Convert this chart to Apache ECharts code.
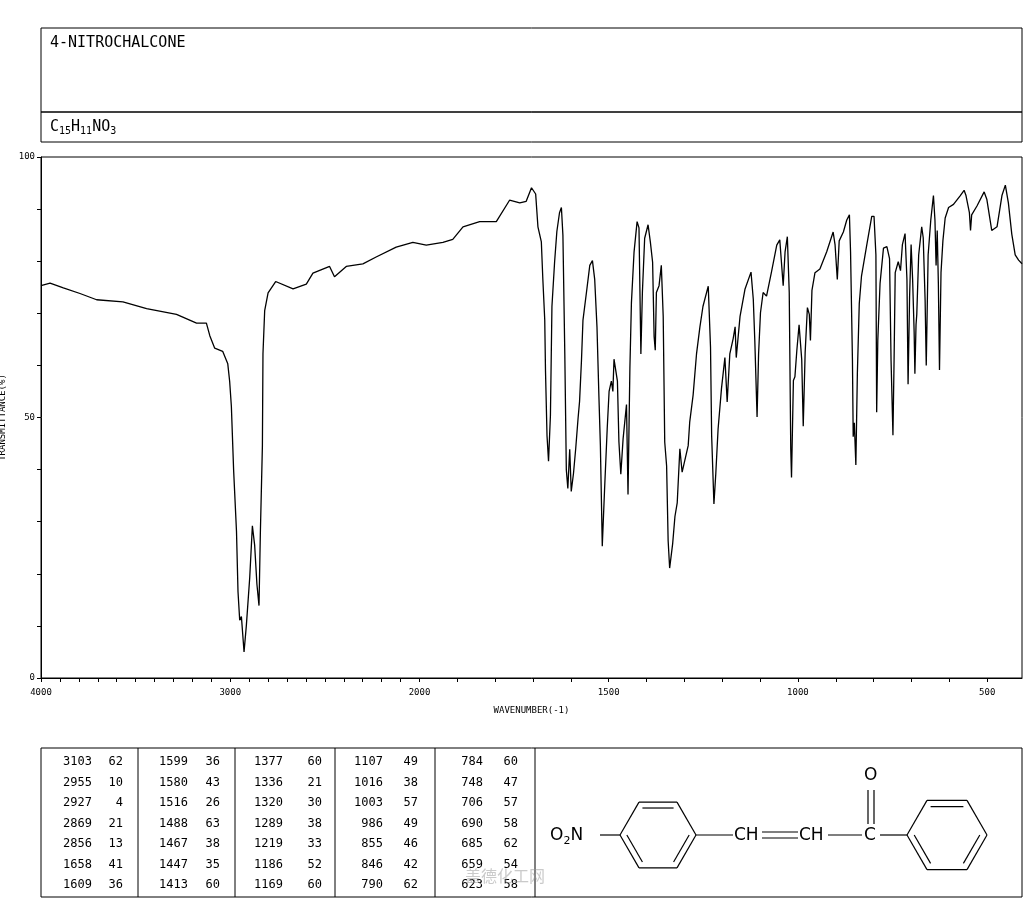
<!DOCTYPE html>
<html lang="en">
<head>
<meta charset="UTF-8">
<title>4-NITROCHALCONE IR</title>
<script src="https://cdn.jsdelivr.net/npm/echarts@6/dist/echarts.min.js"></script>
<style>body{margin:0;background:#fff}#main{width:1024px;height:900px}</style>
</head>
<body>
<div id="main"></div>
<script>
// spectrum: wavenumber (cm-1) and transmittance (%)
var wavenumbers = [4000,3952,3882,3794,3706,3567,3442,3284,3178,3126,3108,3082,3040,3013,3003,2994,2982,2967,2959,2950,2941,2927,2915,2897,2883,2871,2859,2848,2841,2830,2827,2818,2800,2760,2668,2598,2563,2475,2466,2449,2387,2299,2229,2123,2035,1982,1938,1912,1885,1841,1797,1762,1735,1718,1704,1693,1687,1678,1674,1669,1667,1663,1659,1654,1650,1643,1637,1630,1625,1621,1616,1612,1608,1603,1599,1593,1587,1581,1577,1572,1568,1559,1550,1543,1537,1531,1526,1522,1517,1511,1504,1499,1493,1489,1486,1482,1477,1473,1468,1462,1453,1449,1444,1440,1433,1425,1420,1415,1411,1405,1396,1390,1384,1380,1377,1374,1367,1361,1356,1352,1347,1343,1339,1331,1325,1319,1312,1306,1301,1290,1286,1277,1268,1259,1251,1237,1231,1228,1222,1217,1211,1202,1193,1187,1180,1171,1166,1163,1153,1140,1124,1118,1114,1108,1104,1099,1092,1083,1070,1056,1048,1039,1034,1028,1023,1019,1017,1012,1008,1003,997,990,986,981,975,970,967,963,955,942,924,907,902,896,891,880,871,864,861,856,854,851,847,843,838,832,818,805,799,794,792,789,783,774,765,758,754,749,746,743,735,729,724,717,712,709,705,701,697,693,691,688,686,681,673,669,664,661,656,649,642,638,635,632,629,626,622,617,611,602,589,571,561,556,547,544,541,527,508,501,488,474,461,452,444,435,426,417,408];
var transmittance = [75.3,75.8,74.9,73.8,72.6,72.2,70.9,69.8,68.1,68.1,65.7,63.3,62.7,60.3,56.9,52.1,39.8,28.2,16.6,11.1,11.8,5,10,19.3,29.2,25.5,18,13.9,27.5,44.6,62.3,70.5,73.9,76.1,74.7,75.6,77.7,79,79.3,77,79,79.5,80.8,82.7,83.6,83.1,83.6,84.2,86.6,87.6,87.6,91.7,91.2,91.5,94.1,92.9,86.6,83.7,76.5,68.7,58.9,46.5,41.6,50.4,71.3,79.8,85.7,89.3,90.3,85,62.2,40,36.4,43.9,35.8,39.3,44.2,49.8,53.1,60.9,68.7,73.9,79.2,80.1,76.5,67.4,54.3,44.6,25.3,36.1,47.8,55,57,55,61.2,61.2,57,45.3,39.1,45.9,52.5,35.2,59.6,72,81.8,87.6,86.4,62.2,74,84.4,87,83.7,79.8,65.5,62.9,74,75.3,79.2,69.4,45.3,40.7,26.4,21.1,25.8,31,33.6,44,39.5,39.4,44.6,49.1,54.3,62.2,67.4,71.3,75.2,63.5,46.5,33.4,39.3,47.8,55.6,61.5,53,62.2,65.2,67.4,61.5,69.4,74.6,77.9,72.7,64.8,50.1,62.2,70.1,74,73.3,77.9,83.1,84.1,75.3,81.8,84.7,74,44,38.5,57.1,57.8,62.8,67.8,61.1,48.3,62.4,71.1,69.8,64.8,74.4,77.8,78.5,81.8,85.6,83.2,76.5,83.9,85.6,87.9,88.9,81.8,61,46.3,49,40.9,58.4,71.8,77.2,83.2,88.6,88.6,81.2,51,64.8,75.8,82.5,82.8,80.5,61,46.6,61,77.8,79.9,78.2,83.2,85.3,76.5,56.4,73.2,83.2,76.5,66.4,58.4,67.8,69.8,81.2,86.6,84.5,72.5,60,81.2,87.9,92.6,87.9,79.2,85.9,75.8,59.1,77.8,83.9,88.3,90.3,90.9,92.6,93.6,92.6,89.3,85.9,88.9,90.6,93.3,91.9,85.9,86.6,92.6,94.6,91.2,85.2,81.2,80.2,79.5];

// peak table, column by column
var peakWn = [
  [3103,2955,2927,2869,2856,1658,1609],
  [1599,1580,1516,1488,1467,1447,1413],
  [1377,1336,1320,1289,1219,1186,1169],
  [1107,1016,1003,986,855,846,790],
  [784,748,706,690,685,659,623]
];
var peakT = [
  [62,10,4,21,13,41,36],
  [36,43,26,63,38,35,60],
  [60,21,30,38,33,52,60],
  [49,38,57,49,46,42,62],
  [60,47,57,58,62,54,58]
];
var xLabels = [4000,3000,2000,1500,1000,500];

// the axis is compressed 2x above 2000 cm-1
function pos(wn) { return wn <= 2000 ? wn : 2000 + (wn - 2000) / 2; }
function unpos(p) { return p <= 2000 ? p : 2000 + (p - 2000) * 2; }

var data = wavenumbers.map(function (w, i) { return [pos(w), transmittance[i]]; });
var minorTicks = [];
for (var w = 500; w <= 4000; w += 100) minorTicks.push(pos(w));

var font = '"DejaVu Sans Mono", monospace';
var graphics = [];
function line(x1, y1, x2, y2, lw) {
  graphics.push({type: 'line', shape: {x1: x1, y1: y1, x2: x2, y2: y2}, style: {stroke: '#000', lineWidth: lw || 1}});
}
function text(x, y, s, opt) {
  graphics.push({type: 'text', x: x, y: y, style: Object.assign({text: s, font: '13px ' + font, fill: '#000', textVerticalAlign: 'middle'}, opt || {})});
}

// header boxes
graphics.push({type: 'rect', shape: {x: 41, y: 28, width: 981, height: 84}, style: {fill: 'none', stroke: '#000', lineWidth: 1}});
graphics.push({type: 'rect', shape: {x: 41, y: 112, width: 981, height: 30}, style: {fill: 'none', stroke: '#000', lineWidth: 1}});
text(50, 43, '4-NITROCHALCONE', {font: '15px ' + font});
graphics.push({type: 'text', x: 50, y: 127, style: {
  text: 'C{s|15}H{s|11}NO{s|3}', font: '15px ' + font, fill: '#000', textVerticalAlign: 'middle',
  rich: {s: {font: '10px ' + font, fill: '#000', verticalAlign: 'bottom', padding: [8, 0, 0, 0]}}
}});

// peak table
var colX = [41, 138, 235, 335, 435, 535];
graphics.push({type: 'rect', shape: {x: 41, y: 748, width: 981, height: 149}, style: {fill: 'none', stroke: '#000', lineWidth: 1}});
for (var c = 1; c < colX.length; c++) line(colX[c], 748, colX[c], 897);
var wnRight = [92, 188, 283, 383, 483];
var tRight = [123, 220, 322, 418, 518];
for (var c = 0; c < 5; c++) {
  for (var r = 0; r < 7; r++) {
    var y = 762 + r * 20.5;
    text(wnRight[c], y, String(peakWn[c][r]), {textAlign: 'right', font: '12px ' + font});
    text(tRight[c], y, String(peakT[c][r]), {textAlign: 'right', font: '12px ' + font});
  }
}
text(465, 876, '盖德化工网', {font: '16px "Noto Sans CJK SC"', fill: 'rgba(150,150,150,0.5)'});

// structure
function benzene(cx, cy, r) {
  var pts = [];
  for (var k = 0; k < 6; k++) {
    var a = Math.PI / 3 * k;
    pts.push([cx + r * Math.cos(a), cy + r * Math.sin(a)]);
  }
  for (var k = 0; k < 6; k++) {
    var p = pts[k], q = pts[(k + 1) % 6];
    line(p[0], p[1], q[0], q[1], 1.2);
    if (k % 2 === 0) {
      var s = 0.82;
      line(cx + (p[0] - cx) * s, cy + (p[1] - cy) * s, cx + (q[0] - cx) * s, cy + (q[1] - cy) * s, 1.2);
    }
  }
}
benzene(658, 835, 38);
benzene(947, 835, 40);
graphics.push({type: 'text', x: 550, y: 836, style: {
  text: 'O{s|2}N', font: '17px "DejaVu Sans"', fill: '#000', textVerticalAlign: 'middle',
  rich: {s: {font: '11px "DejaVu Sans"', fill: '#000', padding: [10, 0, 0, 0]}}
}});
line(600, 835, 620, 835, 1.2);
line(696, 835, 733, 835, 1.2);
text(734, 836, 'CH', {font: '17px "DejaVu Sans"'});
line(762, 832, 798, 832, 1.2);
line(762, 838, 798, 838, 1.2);
text(799, 836, 'CH', {font: '17px "DejaVu Sans"'});
line(828, 835, 862, 835, 1.2);
text(864, 836, 'C', {font: '17px "DejaVu Sans"'});
line(868, 790, 868, 824, 1.2);
line(874, 790, 874, 824, 1.2);
text(864, 776, 'O', {font: '17px "DejaVu Sans"'});
line(880, 835, 907, 835, 1.2);

var chart = echarts.init(document.getElementById('main'));
chart.setOption({
  animation: false,
  backgroundColor: '#fff',
  grid: {left: 41, right: 2, top: 157, bottom: 222, show: true, borderColor: '#000', borderWidth: 1,
    containLabel: false, outerBoundsMode: 'none'},
  xAxis: {
    type: 'value', min: 408, max: 3000, inverse: true,
    name: 'WAVENUMBER(-1)', nameLocation: 'middle', nameGap: 28,
    nameTextStyle: {fontFamily: font, fontSize: 9, color: '#000', padding: [0, 0, 0, 0]},
    axisLine: {lineStyle: {color: '#000'}},
    axisTick: {customValues: minorTicks, length: 4, inside: false, lineStyle: {color: '#000'}},
    axisLabel: {customValues: xLabels.map(pos), fontFamily: font, fontSize: 9, color: '#000', margin: 10,
      formatter: function (v) { return String(Math.round(unpos(v))); }},
    splitLine: {show: false}
  },
  yAxis: {
    type: 'value', min: 0, max: 100, interval: 10,
    name: 'TRANSMITTANCE(%)', nameLocation: 'middle', nameGap: 34,
    nameTextStyle: {fontFamily: font, fontSize: 9, color: '#000'},
    axisLine: {show: true, lineStyle: {color: '#000'}},
    axisTick: {show: true, length: 4, lineStyle: {color: '#000'}},
    axisLabel: {fontFamily: font, fontSize: 9, color: '#000', margin: 6,
      formatter: function (v) { return v % 50 === 0 ? String(v) : ''; }},
    splitLine: {show: false}
  },
  series: [{
    type: 'line', data: data, showSymbol: false,
    lineStyle: {color: '#000', width: 1.3}
  }],
  graphic: graphics
});
</script>
</body>
</html>
